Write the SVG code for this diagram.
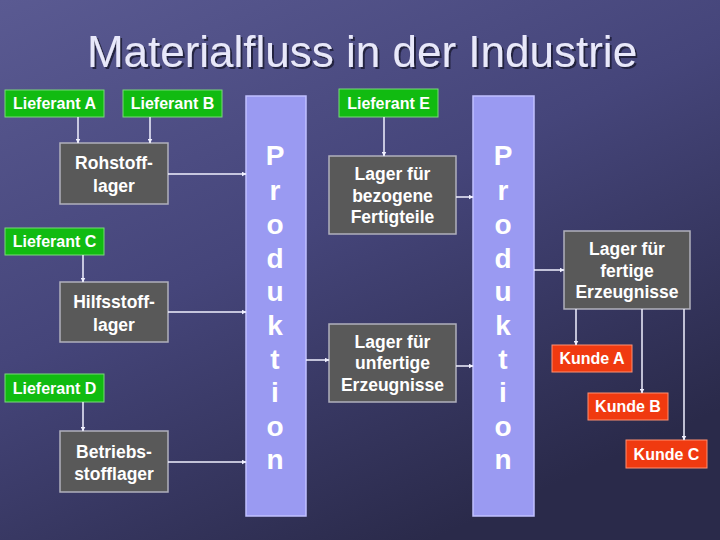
<svg xmlns="http://www.w3.org/2000/svg" width="720" height="540" viewBox="0 0 720 540">
<defs>
<linearGradient id="bg" x1="0" y1="0" x2="0.6" y2="1">
<stop offset="0" stop-color="#5a5a92"/>
<stop offset="0.5" stop-color="#45457a"/>
<stop offset="1" stop-color="#2a2a4a"/>
</linearGradient>
<filter id="sh" x="-5%" y="-20%" width="110%" height="140%">
<feDropShadow dx="2" dy="2" stdDeviation="0.6" flood-color="#1a1a30" flood-opacity="0.8"/>
</filter>
<marker id="ah" viewBox="0 0 10 10" refX="9" refY="5" markerWidth="5" markerHeight="5" orient="auto" markerUnits="userSpaceOnUse">
<path d="M0,0 L10,5 L0,10 z" fill="#f0f0ff"/>
</marker>
<style>
.sup{fill:#11bb11;stroke:#7ad87a;stroke-width:1}
.store{fill:#595959;stroke:#b0b0bc;stroke-width:1.5}
.prod{fill:#9a9af2;stroke:#c0c0ff;stroke-width:1.5}
.cust{fill:#f03a10;stroke:#ff9070;stroke-width:1}
.t{font-family:"Liberation Sans",Arial,sans-serif;font-weight:bold;fill:#ffffff;text-anchor:middle}
.s{font-size:16px}
.m{font-size:17.5px}
.p{font-size:28px}
.c line{stroke:#f0f0ff;stroke-width:1.5;marker-end:url(#ah)}
</style>
</defs>
<rect width="720" height="540" fill="url(#bg)"/>
<text x="362" y="67" font-family="'Liberation Sans',Arial,sans-serif" font-size="44" fill="#e8e8fa" text-anchor="middle" filter="url(#sh)">Materialfluss in der Industrie</text>

<g id="lieferant-a"><rect class="sup" x="5" y="90" width="99" height="27"/><text class="t s" x="54.5" y="109">Lieferant A</text></g>
<g id="lieferant-b"><rect class="sup" x="123" y="90" width="99" height="27"/><text class="t s" x="172.5" y="109">Lieferant B</text></g>
<g id="lieferant-c"><rect class="sup" x="5" y="228" width="99" height="27"/><text class="t s" x="54.5" y="247">Lieferant C</text></g>
<g id="lieferant-d"><rect class="sup" x="5" y="374" width="99" height="28"/><text class="t s" x="54.5" y="393.5">Lieferant D</text></g>
<g id="lieferant-e"><rect class="sup" x="339" y="89" width="99" height="28"/><text class="t s" x="388.5" y="108.5">Lieferant E</text></g>

<g id="rohstofflager"><rect class="store" x="60" y="143" width="108" height="61"/><text class="t m" x="114" y="169">Rohstoff-</text><text class="t m" x="114" y="192">lager</text></g>
<g id="hilfsstofflager"><rect class="store" x="60" y="282" width="108" height="60"/><text class="t m" x="114" y="308">Hilfsstoff-</text><text class="t m" x="114" y="331">lager</text></g>
<g id="betriebsstofflager"><rect class="store" x="60" y="431" width="108" height="61"/><text class="t m" x="114" y="458">Betriebs-</text><text class="t m" x="114" y="480">stofflager</text></g>

<g id="produktion-1"><rect class="prod" x="246" y="96" width="60" height="420"/>
<text class="t p" x="275"><tspan x="275" y="165">P</tspan><tspan x="275" y="200">r</tspan><tspan x="275" y="234">o</tspan><tspan x="275" y="268">d</tspan><tspan x="275" y="301">u</tspan><tspan x="275" y="335">k</tspan><tspan x="275" y="369">t</tspan><tspan x="275" y="402">i</tspan><tspan x="275" y="436">o</tspan><tspan x="275" y="469">n</tspan></text></g>

<g id="lager-bezogene"><rect class="store" x="329" y="156" width="127" height="78"/><text class="t m" x="392.5" y="180">Lager für</text><text class="t m" x="392.5" y="202">bezogene</text><text class="t m" x="392.5" y="223">Fertigteile</text></g>
<g id="lager-unfertige"><rect class="store" x="329" y="324" width="127" height="78"/><text class="t m" x="392.5" y="348">Lager für</text><text class="t m" x="392.5" y="369">unfertige</text><text class="t m" x="392.5" y="391">Erzeugnisse</text></g>

<g id="produktion-2"><rect class="prod" x="473" y="96" width="61" height="420"/>
<text class="t p" x="503"><tspan x="503" y="165">P</tspan><tspan x="503" y="200">r</tspan><tspan x="503" y="234">o</tspan><tspan x="503" y="268">d</tspan><tspan x="503" y="301">u</tspan><tspan x="503" y="335">k</tspan><tspan x="503" y="369">t</tspan><tspan x="503" y="402">i</tspan><tspan x="503" y="436">o</tspan><tspan x="503" y="469">n</tspan></text></g>

<g id="lager-fertige"><rect class="store" x="564" y="231" width="126" height="78"/><text class="t m" x="627" y="255">Lager für</text><text class="t m" x="627" y="277">fertige</text><text class="t m" x="627" y="298">Erzeugnisse</text></g>

<g id="kunde-a"><rect class="cust" x="552" y="345" width="80" height="27"/><text class="t s" x="592" y="364">Kunde A</text></g>
<g id="kunde-b"><rect class="cust" x="588" y="393" width="80" height="27"/><text class="t s" x="628" y="412">Kunde B</text></g>
<g id="kunde-c"><rect class="cust" x="626" y="440" width="81" height="28"/><text class="t s" x="666.5" y="459.5">Kunde C</text></g>

<g id="connectors" class="c">
<line x1="78" y1="117" x2="78" y2="143"/>
<line x1="150" y1="117" x2="150" y2="143"/>
<line x1="83" y1="255" x2="83" y2="282"/>
<line x1="83" y1="402" x2="83" y2="431"/>
<line x1="384" y1="117" x2="384" y2="156"/>
<line x1="168" y1="174" x2="246" y2="174"/>
<line x1="168" y1="312" x2="246" y2="312"/>
<line x1="168" y1="462" x2="246" y2="462"/>
<line x1="306" y1="360" x2="329" y2="360"/>
<line x1="456" y1="197" x2="473" y2="197"/>
<line x1="456" y1="366" x2="473" y2="366"/>
<line x1="534" y1="270" x2="564" y2="270"/>
<line x1="576" y1="309" x2="576" y2="345"/>
<line x1="642" y1="309" x2="642" y2="393"/>
<line x1="684" y1="309" x2="684" y2="440"/>
</g>
</svg>
